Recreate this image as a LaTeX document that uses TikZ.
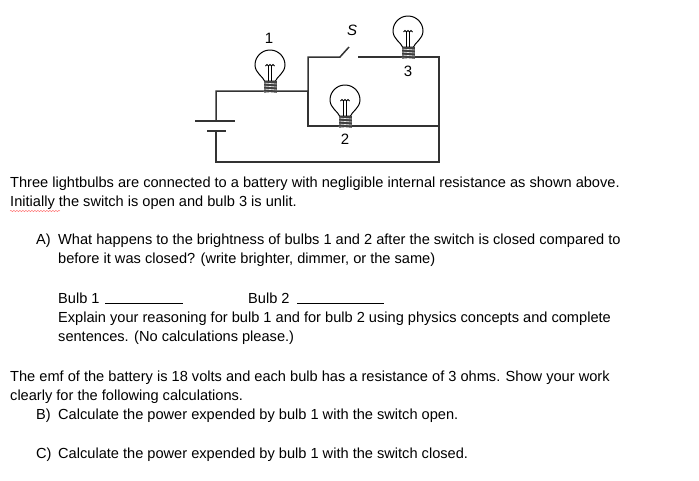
\documentclass[tikz,border=0pt]{standalone}
\usepackage{fontspec}
\setmainfont{Liberation Sans}
\usetikzlibrary{decorations.pathmorphing}
\begin{document}
\begin{tikzpicture}[x=1pt,y=-1pt,
  wire/.style={line width=1.5pt,color=black!80},
  txt/.style={anchor=west,inner sep=0pt,font=\fontsize{14.6}{16}\selectfont},
  lbl/.style={font=\fontsize{15}{16}\rmfamily\selectfont,inner sep=0pt},
  bulb/.pic={
    \draw[line width=1pt,fill=white] (-5.5,-12) .. controls (-6.5,-16) and (-15,-20) .. (-15,-28) arc(180:360:15) .. controls (15,-20) and (6.5,-16) .. (5.5,-12) -- cycle;
    \draw[line width=0.9pt] (-1.5,-12) -- (-1.5,-27) (1.5,-12) -- (1.5,-27);
    \draw[line width=0.8pt] (-4.5,-27) arc(180:360:1.5) arc(180:360:1.5) arc(180:360:1.5);
    \fill[black!75] (-6.5,-12) rectangle (6.5,0);
    \foreach \yy in {-10,-7,-4,-1} \draw[white,line width=0.6pt] (-6.5,\yy) -- (6.5,\yy+1);
  }]
\useasboundingbox (0,0) rectangle (699,480);
\coordinate (tl) at (216,91);
\coordinate (bl) at (216,162);
\coordinate (br) at (439,162);
\coordinate (j) at (308,91);
\coordinate (jt) at (308,57);
\coordinate (jm) at (308,126);
\coordinate (mr) at (439,126);
\coordinate (tr) at (439,57);
\coordinate (s1) at (340,57);
\coordinate (s2) at (349,47);
\coordinate (s3) at (358,57);
\draw[wire] (216,121) -- (tl) -- (j) -- (jt) -- (s1) -- (s2);
\draw[wire] (s3) -- (tr) -- (br) -- (bl) -- (216,131);
\draw[wire] (j) -- (jm) -- (mr);
\draw[wire] (195,121) -- (235,121);
\draw[wire] (207,131) -- (226,131);
\pic at (270,93) {bulb};
\pic at (345,128) {bulb};
\pic at (408,59) {bulb};
\node[lbl] (l1) at (269,38) {1};
\node[lbl] (lS) at (352,30) {\itshape S};
\node[lbl] (l3) at (408,71) {3};
\node[lbl] (l2) at (345,139) {2};
\node[txt] (t1) at (10,184) {Three lightbulbs are connected to a battery with negligible internal resistance as shown above.};
\node[txt] (t2) at (10,203) {Initially the switch is open and bulb 3 is unlit.};
\draw[red!50!pink,decorate,decoration={snake,amplitude=0.6pt,segment length=3pt}] (10,211) -- (60,211);
\node[txt] (a0) at (36,241) {A)};
\node[txt] (a1) at (58,241) {What happens to the brightness of bulbs 1 and 2 after the switch is closed compared to};
\node[txt] (a2) at (58,260) {before it was closed? (write brighter, dimmer, or the same)};
\node[txt] (b1) at (58,298) {Bulb 1};
\draw (105,303) -- (183,303);
\node[txt] (b2) at (248,298) {Bulb 2};
\draw (297,303) -- (384,303);
\node[txt] (e1) at (58,319) {Explain your reasoning for bulb 1 and for bulb 2 using physics concepts and complete};
\node[txt] (e2) at (58,338) {sentences. (No calculations please.)};
\node[txt] (f1) at (10,378) {The emf of the battery is 18 volts and each bulb has a resistance of 3 ohms. Show your work};
\node[txt] (f2) at (10,397) {clearly for the following calculations.};
\node[txt] (g0) at (36,416) {B)};
\node[txt] (g1) at (58,416) {Calculate the power expended by bulb 1 with the switch open.};
\node[txt] (h0) at (36,455) {C)};
\node[txt] (h1) at (58,455) {Calculate the power expended by bulb 1 with the switch closed.};
\end{tikzpicture}
\end{document}
